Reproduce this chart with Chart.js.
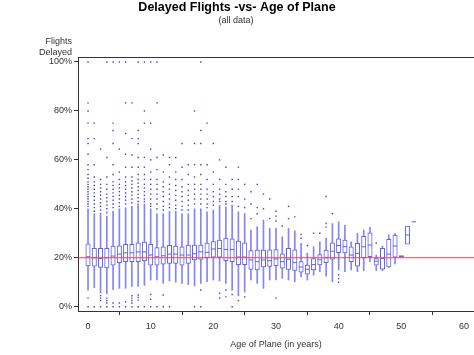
<!DOCTYPE html>
<html>
<head>
<meta charset="utf-8">
<script src="https://cdn.jsdelivr.net/npm/chart.js@4/dist/chart.umd.min.js"></script>
<style>
html,body{margin:0;padding:0;background:#fff;overflow:hidden;}
#wrap{width:474px;height:355px;position:relative;}
</style>
</head>
<body>
<div id="wrap"><canvas id="c"></canvas></div>
<script>
// ---- data ----
const ages        = [0,1,2,3,4,5,6,7,8,9,10,11,12,13,14,15,16,17,18,19,20,21,22,23,24,25,26,27,28,29,30,31,32,33,34,35,36,37,38,39,40,41,42,43,44,45,46,47,48,49,50,51,52];
const q1          = [16.7,16.6,16.1,15.8,17.0,18.0,18.4,18.4,18.4,18.7,17.0,17.0,17.4,17.7,17.7,17.0,17.7,19.1,19.3,20.0,20.2,20.2,18.8,18.4,17.2,17.2,15.2,15.0,16.3,16.5,16.8,15.7,15.2,14.8,14.1,13.3,15.0,17.1,18.0,19.4,22.1,22.0,18.4,16.6,20.0,20.4,17.0,15.3,16.3,20.2,20.2,25.6,null];
const medians     = [20.4,20.0,19.7,20.0,20.7,21.5,22.0,22.0,22.4,22.4,21.1,20.4,20.8,21.5,21.5,21.1,21.1,21.6,22.4,22.2,23.6,23.8,23.4,23.4,20.3,20.3,19.1,18.4,19.1,18.8,19.5,18.4,19.4,18.0,16.2,15.3,17.2,19.2,20.0,22.7,25.0,24.5,21.1,21.8,24.5,25.2,18.6,19.7,21.5,24.8,20.5,29.3,34.7];
const q3          = [25.7,23.8,23.8,23.8,24.8,24.9,25.5,25.5,26.1,26.4,25.5,24.2,24.5,25.1,24.8,24.5,25.2,25.2,25.2,26.0,26.6,27.2,28.0,27.7,26.8,26.1,22.9,23.1,23.1,23.2,23.3,21.6,23.8,23.2,18.4,17.0,19.7,21.3,23.1,26.1,27.7,27.2,24.5,25.9,28.8,30.2,19.7,23.8,27.5,29.3,20.9,32.9,null];
const whiskerLow  = [6.8,7.8,5.5,5.3,7.0,7.5,7.5,8.3,8.3,8.7,10.9,10.9,9.5,10.5,10.0,9.5,9.0,8.5,9.5,10.2,10.9,10.5,9.5,6.8,4.5,6.0,10.9,9.5,7.5,10.9,10.9,11.6,10.9,10.2,12.2,10.9,12.9,14.3,12.5,10.2,15.0,14.3,15.0,14.3,14.7,18.4,14.7,14.7,16.1,17.5,null,null,null];
const whiskerHigh = [40,38,37.5,37,39,40,40.5,41,42,42,40,38,38,39,39,38,38,40,40,38.8,39.5,41.5,40.8,41.5,38.8,38.1,31.3,32.7,35.4,32,32,28.6,32,31,25.9,21.8,24.5,26.5,28,34,34.7,33.3,26.5,30,31.3,32.4,21.1,24.8,29.3,30,null,null,null];
const outliers = [
  [100,83.3,80,75,68.7,66.7,62.3,58,56,54,52.5,51,50,49,48,47,46,45,44,43,42,41,0,3.5],
  [75,68.7,58,53,51,49.5,48,46.5,45,43.5,42,40.5,39,0],
  [64.4,52,50,48.5,47,45.5,44,42.5,41,39.5,38,0,2.5,3.5,4.5],
  [100,61,53,50,48,46,44.5,43,41.5,40,38.5,0,1.5,2.5,3.5],
  [100,75,72,66.7,58,54,51,49.5,48,46.5,45,43.5,42,40.5,0,1.5],
  [100,64.4,55,52,50,48.5,47,45.5,44,42.5,41,0,1.5],
  [100,83.3,70.8,62.3,57,53,51,49.5,48,46.5,45,43.5,42,0,2],
  [83.3,68.7,62,57,53,51.5,50,48.5,47,45.5,44,42.5,0,1.5,2.5,3.5,4.5],
  [100,72,68.7,66.7,61,57,54,52,50.5,49,47.5,46,44.5,43,0,2.7,3.8,4.8],
  [100,80,75,61,57,54,52,50,48.5,47,45.5,44,43,0],
  [100,75,64.4,60,55,52,50,48,46,44,42,41,0,3,5],
  [100,83.3,61,56,52,50,48,46,44,42,40,0],
  [62,55,51,49,47,45,43,41,39.5,0,4.8],
  [61,58,53,50,48,46,44,42,40.5,0],
  [61,55,52,49.5,47.5,45.5,43.5,41.5,40],
  [66.7,57,52,49,47,45,43,41,39.5],
  [58,54,50,47.5,45.5,43.5,41.5,39.5],
  [80,66.7,58,53,50,48,46,44,42,0],
  [100,72,66.7,58,54,50,48,46,44,42,0,6.8],
  [75,58,52,48,46,44,42,40.5],
  [66.7,55,50,47,45,43,41.5],
  [60,52,48,46,44,43,3.5,5.5],
  [57,50,47,45,43,42,4,6.8],
  [52,48,45,43,0,5],
  [57,52,48,45,41,2.5],
  [50,44,40.5,4],
  [47,42,36],
  [50,40.5,38],
  [46,40],
  [44,36],
  [39,37,35,3.5],
  [33],
  [41,36],
  [36.7],
  [29.5,28],
  [25],
  [30],
  [30],
  [45,34,32.5],
  [38],
  [10,11.5,13],
  [],[],[],[],[],
  [26],
  [],[],[],[],[],[]
];
const referenceLevel = 20;
const xTicks = [0,10,20,30,40,50,60];
const yTicks = [0,20,40,60,80,100];

// ---- build datasets from the arrays ----
const whiskerData = [], boxData = [], medianData = [], outlierData = [];
ages.forEach((a, i) => {
  if (whiskerLow[i] !== null) whiskerData.push({x: a, y: [whiskerLow[i], whiskerHigh[i]]});
  if (q1[i] !== null) boxData.push({x: a, y: [q1[i], q3[i]]});
  if (medians[i] !== null) medianData.push({x: a, y: medians[i]});
  (outliers[i] || []).forEach(v => outlierData.push({x: a, y: v}));
});

const BLUE = '#5f5ff0';
const FONT = '"Liberation Sans", Arial, sans-serif';

const textPlugin = {
  id: 'texts',
  afterDraw(chart) {
    const ctx = chart.ctx, ca = chart.chartArea;
    ctx.save();
    ctx.strokeStyle = '#333';
    ctx.lineWidth = 1;
    ctx.beginPath();
    ctx.moveTo(ca.left, ca.top + 0.5);
    ctx.lineTo(ca.right, ca.top + 0.5);
    ctx.stroke();
    ctx.fillStyle = '#000';
    ctx.textAlign = 'center';
    ctx.textBaseline = 'middle';
    ctx.font = 'bold 12.5px ' + FONT;
    ctx.fillText('Delayed Flights -vs- Age of Plane', 237, 8);
    ctx.fillStyle = '#333';
    ctx.font = '9px ' + FONT;
    ctx.fillText('(all data)', 236, 21);
    ctx.textAlign = 'right';
    ctx.fillText('Flights', 72, 42);
    ctx.fillText('Delayed', 72, 52.5);
    ctx.textAlign = 'center';
    ctx.fillText('Age of Plane (in years)', (ca.left + ca.right) / 2, 344.5);
    ctx.restore();
  }
};

new Chart(document.getElementById('c'), {
  type: 'bar',
  data: {
    datasets: [
      {type: 'line', data: [{x: -1.6, y: referenceLevel}, {x: 61.6, y: referenceLevel}], borderColor: '#f2404a', borderWidth: 1, pointRadius: 0, pointHoverRadius: 0, order: 1},
      {type: 'line', data: medianData, showLine: false, borderWidth: 0, pointStyle: 'line', pointRadius: 2.2, pointHoverRadius: 0, borderColor: BLUE, pointBorderColor: BLUE, pointBorderWidth: 1, order: 2},
      {type: 'bar', data: boxData, grouped: false, barThickness: 4.4, backgroundColor: '#ffffff', borderColor: BLUE, borderWidth: 1, borderSkipped: false, order: 3},
      {type: 'bar', data: whiskerData, grouped: false, barThickness: 1, backgroundColor: '#8585f5', borderWidth: 0, order: 4},
      {type: 'line', data: outlierData, showLine: false, borderWidth: 0, pointStyle: 'rect', pointRadius: 1.0, pointHoverRadius: 0, pointBackgroundColor: 'rgba(20,20,200,0.8)', pointBorderWidth: 0, order: 5}
    ]
  },
  options: {
    responsive: true,
    maintainAspectRatio: false,
    animation: false,
    events: [],
    layout: {autoPadding: false, padding: {top: 57, left: 0, right: 0, bottom: 0}},
    plugins: {legend: {display: false}, tooltip: {enabled: false}, title: {display: false}},
    scales: {
      x: {
        type: 'linear', offset: false, min: -1.6, max: 61.6,
        afterFit(s) { s.height = 44; s.paddingLeft = 0; s.paddingRight = 0; },
        afterBuildTicks(s) { s.ticks = xTicks.map(v => ({value: v})); },
        grid: {display: true, drawOnChartArea: false, drawTicks: true, tickLength: 4, color: '#333'},
        border: {display: true, color: '#333', width: 1},
        ticks: {font: {family: FONT, size: 9}, color: '#333', padding: 6, maxRotation: 0}
      },
      y: {
        type: 'linear', min: -1.76, max: 102.04,
        afterFit(s) { s.width = 78; s.paddingTop = 0; s.paddingBottom = 0; },
        afterBuildTicks(s) { s.ticks = yTicks.map(v => ({value: v})); },
        grid: {display: true, drawOnChartArea: false, drawTicks: true, tickLength: 4, color: '#333'},
        border: {display: true, color: '#333', width: 1},
        ticks: {font: {family: FONT, size: 9}, color: '#333', padding: 2, callback: v => v + '%'}
      }
    }
  },
  plugins: [textPlugin]
});
</script>
</body>
</html>
